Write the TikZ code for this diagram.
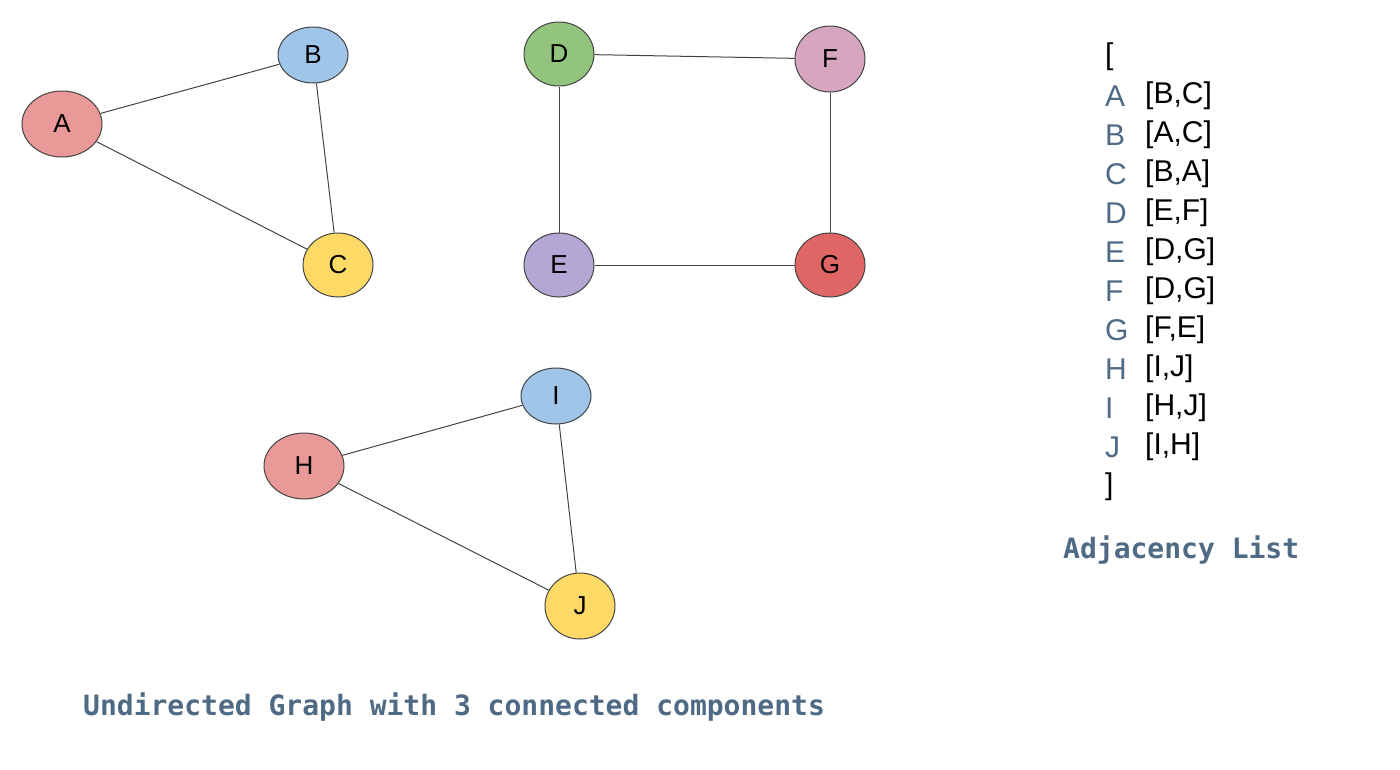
\documentclass[tikz,border=0pt]{standalone}
\usepackage{fontspec}
\setmainfont{Liberation Sans}
\newfontfamily\monof{DejaVu Sans Mono}
\usetikzlibrary{shapes.geometric}
\definecolor{cred}{HTML}{EA9999}
\definecolor{cblue}{HTML}{9FC5E8}
\definecolor{cyel}{HTML}{FFD966}
\definecolor{cgreen}{HTML}{93C47D}
\definecolor{cpurp}{HTML}{B4A7D6}
\definecolor{cpink}{HTML}{D5A6BD}
\definecolor{cdred}{HTML}{E06666}
\definecolor{cline}{HTML}{434343}
\definecolor{ctext}{HTML}{4E6A85}
\begin{document}
\begin{tikzpicture}[x=1pt,y=-1pt]

\tikzset{vnode/.style={ellipse,draw=cline,line width=1pt,inner sep=0pt,minimum width=70pt,minimum height=62pt,font=\fontsize{26}{26}\selectfont},}
\tikzset{bignode/.style={vnode,minimum width=80pt,minimum height=66pt},}
\tikzset{edge/.style={cline,line width=1pt},}
\tikzset{key/.style={anchor=west,inner sep=0pt,text=ctext,font=\fontsize{30}{30}\selectfont},}
\tikzset{adj/.style={anchor=west,inner sep=0pt,font=\fontsize{30}{30}\selectfont},}
\tikzset{title/.style={anchor=west,inner sep=0pt,text=ctext,font=\monof\bfseries\fontsize{28}{28}\selectfont},}

\useasboundingbox (0,0) rectangle (1400,769);

%TRIANGOLO
\draw (62,124) node [bignode,fill=cred] (A) {A};
\draw (313,55) node [vnode,fill=cblue,minimum height=56pt] (B) {B};
\draw (338,265) node [vnode,fill=cyel,minimum height=64pt] (C) {C};
\draw[edge] (A) -- (B);
\draw[edge] (B) -- (C);
\draw[edge] (A) -- (C);

%QUADRATO
\draw (559,54) node [vnode,fill=cgreen,minimum height=64pt] (D) {D};
\draw (830,59) node [vnode,fill=cpink,minimum height=66pt] (F) {F};
\draw (559,265) node [vnode,fill=cpurp,minimum height=64pt] (E) {E};
\draw (830,265) node [vnode,fill=cdred,minimum height=64pt] (G) {G};
\draw[edge] (D) -- (F);
\draw[edge] (D) -- (E);
\draw[edge] (E) -- (G);
\draw[edge] (F) -- (G);

%TRIANGOLO2
\draw (304,466) node [bignode,fill=cred] (H) {H};
\draw (556,396) node [vnode,fill=cblue,minimum height=56pt] (I) {I};
\draw (580,606) node [vnode,fill=cyel,minimum height=66pt] (J) {J};
\draw[edge] (H) -- (I);
\draw[edge] (I) -- (J);
\draw[edge] (H) -- (J);

%LISTA
\draw (1105,57) node [adj] (lo) {[};
\foreach \k/\v [count=\i] in {A/{[B,C]},B/{[A,C]},C/{[B,A]},D/{[E,F]},E/{[D,G]},F/{[D,G]},G/{[F,E]},H/{[I,J]},I/{[H,J]},J/{[I,H]}}
  {\draw (1105,57+39*\i) node [key] (k\k) {\k};
   \draw (1145,57+39*\i) node [adj] (v\k) {\v};}
\draw (1105,487) node [adj] (lc) {]};

\draw (1063,550) node [title] (adjl) {Adjacency List};
\draw (83,707) node [title] (ug) {Undirected Graph with 3 connected components};

\end{tikzpicture}
\end{document}
